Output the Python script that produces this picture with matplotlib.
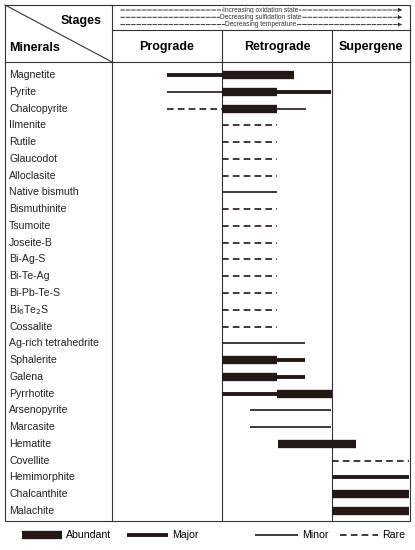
import matplotlib
matplotlib.use("Agg")
import matplotlib.pyplot as plt

minerals = ["Magnetite","Pyrite","Chalcopyrite","Ilmenite","Rutile","Glaucodot","Alloclasite",
            "Native bismuth","Bismuthinite","Tsumoite","Joseite-B","Bi-Ag-S","Bi-Te-Ag","Bi-Pb-Te-S",
            r"Bi$_6$Te$_2$S","Cossalite","Ag-rich tetrahedrite","Sphalerite","Galena","Pyrrhotite",
            "Arsenopyrite","Marcasite","Hematite","Covellite","Hemimorphite","Chalcanthite","Malachite"]
# segments: (start, end, style) on a timeline: 0-100 prograde, 100-200 retrograde, 200-270 supergene
segments = [
    [(50,100,"major"),(100,165,"abundant")],
    [(50,100,"minor"),(100,150,"abundant"),(150,199,"major")],
    [(50,100,"rare"),(100,150,"abundant"),(150,176,"minor")],
    [(100,150,"rare")],[(100,150,"rare")],[(100,150,"rare")],[(100,150,"rare")],
    [(100,150,"minor")],
    [(100,150,"rare")],[(100,150,"rare")],[(100,150,"rare")],[(100,150,"rare")],[(100,150,"rare")],
    [(100,150,"rare")],[(100,150,"rare")],[(100,150,"rare")],
    [(100,175,"minor")],
    [(100,150,"abundant"),(150,175,"major")],
    [(100,150,"abundant"),(150,175,"major")],
    [(100,150,"major"),(150,200,"abundant")],
    [(125,199,"minor")],[(125,199,"minor")],
    [(151,222,"abundant")],
    [(200,270,"rare")],[(200,270,"major")],[(200,270,"abundant")],[(200,270,"abundant")],
]
stages = ["Prograde","Retrograde","Supergene"]
stage_bounds = [0,100,200,270]
arrows = ["Increasing oxidation state","Decreasing sulfidation state","Decreasing temperature"]
legend_labels = ["Abundant","Major","Minor","Rare"]

styles = {"abundant":dict(lw=6,ls="-"),"major":dict(lw=2.8,ls="-"),
          "minor":dict(lw=1.2,ls="-"),"rare":dict(lw=1.2,ls=(0,(4,2.5)))}

fig = plt.figure(figsize=(4.15,5.5),dpi=100)
ax = fig.add_axes([0,0,1,1])
def X(t): return 112+t*1.1
ax.set_xlim(0,415); ax.set_ylim(550,0); ax.axis("off")
k=dict(color="#333333",lw=0.8)
L,R,T,B = 5,410,5,521
ax.plot([L,R,R,L,L],[T,T,B,B,T],**k)
ax.plot([112,112],[T,B],**k)
for t in stage_bounds[1:3]:
    ax.plot([X(t)]*2,[30,B],**k)
ax.plot([112,R],[30,30],**k)
ax.plot([L,R],[62,62],**k)
ax.plot([L,112],[T,62],**k)
ax.text(102,21,"Stages",ha="right",va="center",fontsize=9,fontweight="bold",family="Liberation Sans")
ax.text(9,48,"Minerals",ha="left",va="center",fontsize=9,fontweight="bold",family="Liberation Sans")
for i,s in enumerate(stages):
    ax.text((X(stage_bounds[i])+min(X(stage_bounds[i+1]),R))/2,47,s,ha="center",va="center",
            fontsize=9,fontweight="bold",family="Liberation Sans")
for i,a in enumerate(arrows):
    y=10+i*7.3
    ax.annotate("",xy=(405,y),xytext=(118,y),arrowprops=dict(arrowstyle="-|>",ls=(0,(4,1.5)),lw=0.7,color="#333",mutation_scale=5))
    ax.text(261,y,a,ha="center",va="center",fontsize=4.8,color="#333",
            bbox=dict(fc="white",ec="none",pad=0.3),family="Liberation Sans")
y0,dy=75,(511-75)/26
for i,(m,segs) in enumerate(zip(minerals,segments)):
    y=y0+i*dy
    ax.text(9,y,m,ha="left",va="center",fontsize=7.6,color="#222",family="Liberation Sans")
    for s,e,st in segs:
        ax.plot([X(s),min(X(e),R)],[y,y],color="#231815",solid_capstyle="butt",dash_capstyle="butt",**styles[st])
ly=535
lx=[(22,62),(127,168),(255,298),(340,378)]
for (a,b),lab,st in zip(lx,legend_labels,["abundant","major","minor","rare"]):
    ax.plot([a,b],[ly,ly],color="#231815",solid_capstyle="butt",**styles[st])
    ax.text(b+4,ly,lab,ha="left",va="center",fontsize=7.6,family="Liberation Sans")
fig.savefig("out.png",dpi=100)
